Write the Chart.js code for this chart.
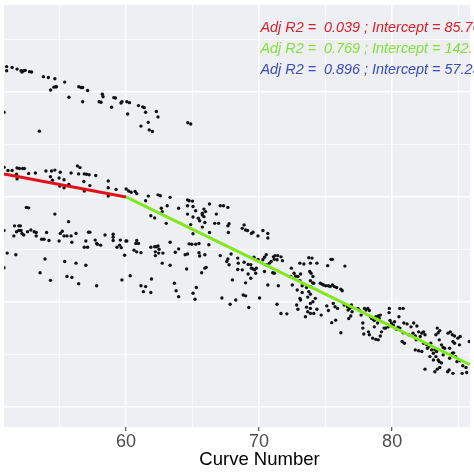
<!DOCTYPE html>
<html>
<head>
<meta charset="utf-8">
<script src="https://cdn.jsdelivr.net/npm/chart.js@4.4.1/dist/chart.umd.min.js"></script>
<style>
    html, body { margin: 0; padding: 0; background: #fff; }
    canvas { display: block; }
</style>
</head>
<body>
<canvas id="chartCurve" width="474" height="474"></canvas>
<script>
// upper group of points (top left)
var upperPoints = [
    [51.04,81.1],[51.04,80.1],[51.45,80.9],[51.82,80.5],[52.12,80.1],[52.19,79.8],[52.32,80.1],[52.44,80.2],
    [52.76,79.9],[52.91,79.8],[53.8,78.7],[54.17,78.5],[54.66,78.2],[54.73,76.3],[54.34,75.5],[54.59,76.2],
    [54.78,76.3],[55.4,77.4],[56.46,76.3],[56.63,76.1],[56.75,76.1],[57.12,75.4],[55.72,73.8],[56.75,72.7],
    [58.23,74.5],[58.28,73.9],[57.99,72.7],[58.13,72.6],[59.09,73.7],[59.21,73.6],[58.92,71.4],[59.7,72.7],
    [59.63,72.4],[60.07,72.7],[60.27,72.5],[60.13,69.8],[60.94,71.8],[61.26,71.5],[61.38,71.3],[61.48,70.2],
    [62.29,70.4],[62.41,69.1],[61.13,66.9],[61.68,67.8],[61.75,66.0],[61.99,65.6],[53.5,65.7],[50.84,70.2],
    [64.65,67.7],[64.87,67.4]
];

// main band of points
var mainPoints = [
    [50.84,57.1],[51.14,56.3],[51.45,56.3],[51.82,56.9],[52.0,56.8],[52.24,56.8],[52.37,56.8],[51.78,55.4],
    [51.82,54.3],[52.69,55.6],[53.2,55.7],[53.99,56.2],[54.41,56.2],[54.66,56.4],[54.33,54.8],[54.48,54.0],
    [55.07,55.9],[54.98,54.5],[55.35,54.1],[55.03,52.6],[55.35,52.2],[55.71,53.0],[55.88,55.7],[56.36,57.4],
    [56.55,57.0],[56.45,55.5],[56.87,55.5],[57.04,55.4],[57.24,55.3],[57.73,55.1],[56.84,53.7],[57.29,52.7],
    [56.87,51.4],[58.67,53.8],[58.67,52.2],[58.67,50.2],[59.26,51.8],[60.02,51.9],[60.2,51.4],[60.39,51.1],
    [60.69,51.3],[60.81,50.8],[61.68,50.2],[61.48,49.1],[62.41,50.5],[52.52,47.5],[52.69,47.4],[54.66,45.9],
    [55.69,44.1],[61.87,45.5],[62.16,45.0],[50.84,42.0],[51.63,43.1],[51.95,43.1],[52.07,43.1],[51.78,41.7],
    [51.95,42.0],[52.12,42.0],[52.19,41.3],[51.58,40.7],[52.32,40.9],[52.61,41.7],[52.86,42.1],[53.11,41.7],
    [53.26,41.5],[53.26,40.7],[53.67,39.9],[53.85,39.9],[54.04,41.5],[54.22,39.6],[54.98,39.5],[55.07,41.3],
    [55.22,41.8],[55.35,40.7],[55.57,40.7],[55.88,40.7],[55.94,39.2],[56.25,41.3],[56.87,38.0],[57.12,38.0],
    [56.99,39.5],[57.19,41.6],[57.29,41.6],[57.69,39.7],[57.8,38.9],[57.86,38.7],[58.1,38.5],[58.43,40.9],
    [59.04,41.1],[59.04,40.4],[59.04,39.6],[59.58,39.7],[59.53,38.5],[59.65,37.9],[59.33,38.0],[60.0,39.5],
    [60.07,39.5],[59.9,36.1],[60.81,39.6],[60.74,38.9],[60.94,38.9],[60.61,37.3],[60.81,36.9],[61.13,36.7],
    [61.87,38.0],[62.16,38.1],[62.41,38.3],[62.21,36.9],[62.21,36.0],[62.46,36.6],[51.08,36.6],[51.73,36.2],
    [50.84,33.1],[53.92,35.2],[55.4,34.6],[56.25,34.2],[56.99,33.7],[53.55,31.9],[54.33,30.1],[55.57,31.0],
    [55.94,30.8],[56.45,29.3],[57.8,28.8],[59.7,30.2],[60.32,31.2],[61.13,28.8],[61.48,28.6],[61.31,27.4],
    [61.87,27.2],[61.92,30.4],
    [62.58,50.3],[63.32,49.9],[64.63,49.3],[64.75,49.1],[65.0,49.0],[66.28,48.3],[67.09,47.9],[67.33,47.9],
    [67.66,47.5],[63.1,47.9],[63.96,47.3],[65.04,47.7],[65.24,46.7],[65.86,47.1],[65.98,46.5],[62.73,46.5],
    [64.63,45.9],[66.79,45.9],[62.66,47.3],[64.63,47.9],[65.74,45.7],
    [65.04,45.2],[65.44,44.9],[65.74,46.1],[65.86,45.3],[65.54,44.3],[65.93,43.9],[66.96,43.7],[66.67,43.7],
    [67.66,43.1],[67.75,43.6],[63.03,43.7],[64.87,43.4],[65.74,42.8],[66.28,41.5],[67.7,41.5],[68.88,43.3],
    [68.74,42.5],[68.99,42.1],[69.14,42.0],[69.43,41.3],[69.55,41.6],[69.92,40.7],[70.29,42.0],[70.66,41.3],
    [70.66,40.2],[65.04,41.2],[63.32,39.2],[64.75,38.8],[64.95,38.7],[65.24,38.7],[65.49,38.9],[66.23,38.6],
    [62.29,38.1],[62.49,37.5],[63.71,36.8],[63.96,37.6],[62.78,36.6],[64.45,36.2],[64.63,36.4],[65.49,36.7],
    [65.93,36.2],[65.54,35.9],[62.73,34.2],[63.32,33.7],[64.56,32.8],[66.03,33.2],[65.93,33.0],[65.69,31.9],
    [67.09,36.0],[67.66,35.2],[67.58,34.6],[67.75,33.8],[67.9,36.4],[68.4,35.4],[68.44,34.2],[68.4,32.7],
    [68.74,32.6],[68.88,34.4],[69.18,33.9],[69.38,33.8],[69.43,33.0],[69.55,32.8],[69.67,32.6],[69.8,33.0],
    [69.62,35.6],[69.92,35.1],[69.75,31.8],[70.41,35.6],[70.29,35.0],[70.54,36.2],[70.78,34.2],[70.91,34.6],
    [71.08,35.7],[71.2,36.0],[71.4,36.0],[71.65,35.7],[71.76,34.8],[71.15,35.1],[71.35,35.0],[70.41,32.2],
    [70.54,33.8],[71.03,31.9],[71.15,31.8],[69.18,31.6],[69.38,30.6],[68.99,29.5],[68.0,30.2],[63.64,29.4],
    [63.77,27.6],[63.96,26.2],[65.04,27.0],[65.29,28.4],[65.19,25.6],[67.21,25.9],[67.83,24.4],[68.25,25.4],
    [68.81,26.6],[68.99,26.4],[69.23,23.6],[70.04,25.9],[70.66,29.0],[71.45,28.8],[71.35,24.4],[71.65,22.2],
    [72.09,22.1],[72.43,33.0],[72.63,31.8],[73.07,34.2],[73.37,34.0],[73.74,35.5],[73.98,35.4],[73.86,34.2],
    [73.81,32.2],[73.91,31.8],[74.05,31.0],[72.92,31.0],[73.07,30.0],[73.24,28.8],[72.38,31.0],[72.75,31.1],
    [72.5,29.0],[72.87,27.8],[73.24,27.2],[73.57,28.4],[73.74,27.4],[73.07,25.8],[73.12,25.4],[73.66,26.1],
    [72.83,24.2],[72.92,23.2],[73.57,23.7],[73.66,22.6],[73.86,22.2],[73.49,21.4],[73.86,24.6],[74.05,25.0],
    [73.12,31.6],[73.86,28.6],
    [74.35,34.2],[75.41,35.1],[75.51,35.1],[75.16,33.6],[76.45,33.5],[73.86,30.0],[74.03,29.5],[74.11,29.4],
    [74.6,29.4],[74.72,29.2],[74.84,29.0],[75.01,28.8],[75.21,28.8],[75.34,28.6],[75.51,29.0],[75.66,28.6],
    [75.83,28.4],[76.15,28.0],[76.25,27.6],[73.86,26.8],[74.23,25.8],
    [73.86,23.4],[74.11,22.2],[74.35,23.2],[74.67,21.8],[75.09,24.0],[75.21,22.9],[75.58,24.6],[75.71,23.8],
    [75.9,23.4],[75.46,20.0],[75.76,20.6],[76.15,17.6],[76.4,24.2],[76.64,23.8],[76.69,23.0],[76.82,23.4],
    [76.94,24.2],[76.99,22.6],[76.74,21.0],[76.89,21.6],[77.43,23.4],[77.56,22.9],[77.67,21.8],[77.8,19.9],
    [77.8,18.7],[77.87,17.3],[77.92,23.4],[78.04,23.0],[78.17,23.4],[78.29,22.9],[78.37,21.4],[78.46,21.0],
    [78.59,20.8],[78.66,20.5],[78.78,21.4],[78.96,21.6],[79.03,21.0],[79.11,21.8],[78.91,19.9],[78.66,19.0],
    [78.22,17.8],[78.29,17.1],[78.54,16.3],[78.78,16.0],[78.96,15.9],[79.11,16.8],[79.2,17.8],[79.4,18.7],
    [79.52,18.7],[79.7,19.0],[79.79,23.4],[79.77,22.4],[79.84,20.5],[79.94,19.9],[80.09,19.4],[80.18,20.2],
    [80.33,18.4],[80.44,18.9],[80.58,18.7],[80.51,21.4],[80.58,23.4],[80.83,23.4],[80.88,19.9],[81.12,19.7],
    [81.42,19.0],[81.62,19.9],[81.86,19.2],[80.83,17.6],[80.75,15.5],[80.92,15.1],[81.25,17.1],[81.57,17.5],
    [81.74,16.8],[81.81,15.9],[81.99,17.8],[82.11,16.7],[82.23,17.5],[82.36,17.8],[82.47,17.1],[81.99,13.3],
    [81.74,13.5],[82.23,13.1],[82.36,15.1],[82.6,14.7],[82.65,13.9],[82.8,14.4],[82.9,15.1],[82.97,13.5],
    [83.1,12.7],[82.84,11.9],[83.21,13.6],[83.34,13.1],[83.29,11.9],[83.39,18.7],[83.46,17.6],[83.58,18.1],
    [83.29,17.1],[83.54,15.9],[83.71,14.7],[83.83,14.1],[83.95,13.9],[84.2,17.5],[84.37,17.8],[84.52,17.1],
    [84.69,16.8],[84.94,16.3],[85.11,16.7],[84.57,15.5],[84.69,15.1],[85.06,14.7],[84.32,13.9],[84.52,12.7],
    [84.62,12.8],[84.76,11.9],[84.87,10.7],[85.11,10.9],[85.31,9.7],[85.55,9.3],[85.6,8.1],[85.8,15.5],
    [85.26,7.9],[84.57,7.9],[84.28,8.7],[84.17,8.3],[83.58,9.3],[83.39,8.9],[83.21,8.3],[82.47,8.9],
    [83.54,10.7],[83.71,10.4],[83.46,11.1],[83.83,12.3],[83.1,11.1],[84.32,11.5]
];

// fitted segments, end points
var redLine = [[50.84, 55.5], [60, 50.0]];
var greenLine = [[60, 50.0], [85.85, 10.0]];

var xTicks = [55, 60, 65, 70, 75, 80, 85];
var xMajor = [60, 70, 80];
var yTicks = [0, 12.5, 25, 37.5, 50, 62.5, 75, 87.5];
var yMajor = [0, 25, 50, 75];

var fitLabels = [
    'Adj R2 =  0.039 ; Intercept = 85.76',
    'Adj R2 =  0.769 ; Intercept = 142.7',
    'Adj R2 =  0.896 ; Intercept = 57.23'
];
var fitColors = ['#d41f2b', '#83e03a', '#3b4cb8'];

function toXY(list) {
    return list.map(function(p) { return { x: p[0], y: p[1] }; });
}

var panelBackground = {
    id: 'panelBackground',
    beforeDraw: function(chart) {
        var a = chart.chartArea;
        var ctx = chart.ctx;
        ctx.save();
        ctx.fillStyle = '#eeeff3';
        ctx.fillRect(a.left, a.top, a.right - a.left, a.bottom - a.top);
        ctx.restore();
    }
};

var fitText = {
    id: 'fitText',
    afterDatasetsDraw: function(chart) {
        var ctx = chart.ctx;
        ctx.save();
        ctx.font = 'italic 14.4px "Liberation Sans", Arial, sans-serif';
        ctx.textAlign = 'left';
        ctx.textBaseline = 'alphabetic';
        for (var i = 0; i < fitLabels.length; i++) {
            ctx.fillStyle = fitColors[i];
            ctx.fillText(fitLabels[i], 260.5, 31.7 + i * 21.1);
        }
        ctx.restore();
    }
};

var axisTitle = {
    id: 'axisTitle',
    afterDraw: function(chart) {
        var ctx = chart.ctx;
        ctx.save();
        ctx.font = '18.5px "Liberation Sans", Arial, sans-serif';
        ctx.fillStyle = '#000';
        ctx.textAlign = 'center';
        ctx.textBaseline = 'alphabetic';
        ctx.fillText('Curve Number', 259.5, 465);
        ctx.restore();
    }
};

var ctx = document.getElementById('chartCurve').getContext('2d');
var chart = new Chart(ctx, {
    type: 'scatter',
    data: {
        datasets: [{
            type: 'line',
            data: toXY(redLine),
            borderColor: '#e0111b',
            borderWidth: 3,
            pointRadius: 0,
            fill: false,
            order: 0
        }, {
            type: 'line',
            data: toXY(greenLine),
            borderColor: '#7fe81e',
            borderWidth: 3,
            pointRadius: 0,
            fill: false,
            order: 0
        }, {
            data: toXY(upperPoints.concat(mainPoints)),
            backgroundColor: '#111',
            borderWidth: 0,
            pointRadius: 1.7,
            order: 1
        }]
    },
    options: {
        responsive: false,
        animation: false,
        devicePixelRatio: 1,
        layout: { padding: { top: 5, left: 0, right: 0, bottom: 0 } },
        plugins: {
            legend: { display: false },
            tooltip: { enabled: false }
        },
        scales: {
            x: {
                type: 'linear',
                min: 50.84,
                max: 85.85,
                afterBuildTicks: function(scale) {
                    scale.ticks = xTicks.map(function(v) { return { value: v }; });
                },
                afterFit: function(scale) { scale.height = 47; },
                border: { display: false },
                grid: {
                    color: '#ffffff',
                    lineWidth: function(c) {
                        return xMajor.indexOf(c.tick.value) >= 0 ? 1.5 : 0.7;
                    },
                    tickLength: 4,
                    tickColor: function(c) {
                        return xMajor.indexOf(c.tick.value) >= 0 ? '#333333' : 'rgba(0,0,0,0)';
                    },
                    tickWidth: 1
                },
                ticks: {
                    padding: 0,
                    maxRotation: 0,
                    autoSkip: false,
                    color: '#4d4d4d',
                    font: { family: '"Liberation Sans", Arial, sans-serif', size: 18 },
                    callback: function(v) {
                        return xMajor.indexOf(v) >= 0 ? String(v) : '';
                    }
                }
            },
            y: {
                type: 'linear',
                min: -4.9,
                max: 95.8,
                afterBuildTicks: function(scale) {
                    scale.ticks = yTicks.map(function(v) { return { value: v }; });
                },
                afterFit: function(scale) { scale.width = 0; },
                border: { display: false },
                grid: {
                    color: '#ffffff',
                    drawTicks: false,
                    lineWidth: function(c) {
                        return yMajor.indexOf(c.tick.value) >= 0 ? 1.5 : 0.7;
                    }
                },
                ticks: { display: false }
            }
        }
    },
    plugins: [panelBackground, fitText, axisTitle]
});
</script>
</body>
</html>
